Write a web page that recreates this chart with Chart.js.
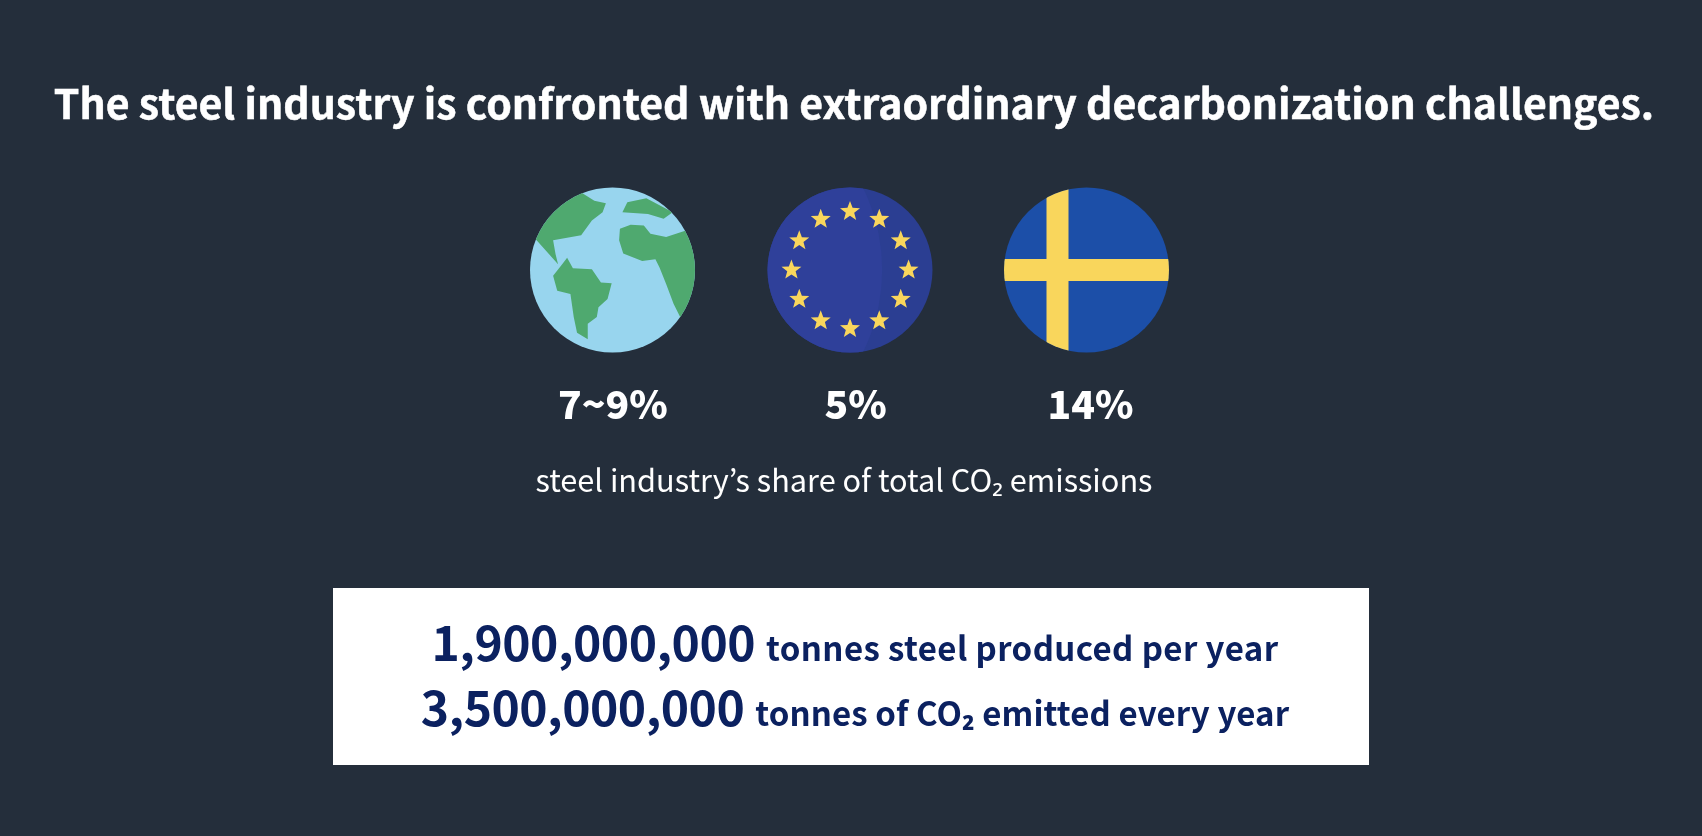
<!DOCTYPE html>
<html>
<head>
<meta charset="utf-8">
<script src="https://cdn.jsdelivr.net/npm/chart.js@4"></script>
<style>
    html, body { margin: 0; padding: 0; background: #242e3b; overflow: hidden; }
    #wrap { position: relative; width: 1702px; height: 836px; font-family: "Noto Sans CJK JP", "Noto Sans", sans-serif; }
    canvas { position: absolute; left: 0; top: 0; }
    .line { position: absolute; left: 0; width: 1702px; text-align: center; white-space: nowrap; }
    #title { top: 69px; left: 3px; color: #fff; font-size: 41px; font-weight: 700; line-height: 64px; -webkit-text-stroke: 0.5px #fff; }
    #caption { top: 457px; left: -7px; color: #fff; font-size: 30.7px; font-weight: 400; line-height: 44px; }
    #box { position: absolute; left: 333px; top: 588px; width: 1036px; height: 177px; background: #fff; }
    .stat { color: #0b2160; font-weight: 700; left: -329px; }
    .stat b { font-size: 48px; font-weight: 700; letter-spacing: -0.5px; margin-right: 11px; }
    .stat span { font-size: 33px; letter-spacing: 0.4px; }
    .stat + .stat span { letter-spacing: 0.12px; }
</style>
</head>
<body>
<div id="wrap">
    <canvas id="shareChart" width="1702" height="836"></canvas>
    <div id="title" class="line"></div>
    <div id="caption" class="line"></div>
    <div id="box"></div>
</div>
<script>
const titleText = 'The steel industry is confronted with extraordinary decarbonization challenges.';
const captionText = 'steel industry’s share of total CO₂ emissions';
const regions = ['World', 'EU', 'Sweden'];
const shareLabels = ['7~9%', '5%', '14%'];
const statNumbers = ['1,900,000,000', '3,500,000,000'];
const statUnits = ['tonnes steel produced per year', 'tonnes of CO₂ emitted every year'];

// layout, in page pixels (both scales run 1:1 with the canvas)
const iconX = [612.5, 850, 1086.5];
const iconY = 270;
const iconRadius = 82.5;
const labelX = [612.8, 855.5, 1090.4];
const labelAxisY = 372.5;
const statTop = [-3, 62];

const iconColors = ['#98d5ee', '#2b3e92', '#1c4fa8'];
const green = '#4fa96f';
const yellow = '#f9d65c';

// continents, as fractions of the globe radius
const continents = [
    [[-0.35, -0.92], [-0.22, -0.84], [-0.08, -0.81], [-0.12, -0.70], [-0.25, -0.60], [-0.38, -0.42], [-0.72, -0.36], [-0.69, -0.19], [-0.66, -0.07], [-0.92, -0.36], [-1.1, -0.6], [-0.6, -1.1]],
    [[0.12, -0.70], [0.18, -0.82], [0.41, -0.87], [0.73, -0.70], [0.62, -0.62], [0.43, -0.68]],
    [[0.09, -0.50], [0.22, -0.55], [0.38, -0.54], [0.46, -0.44], [0.65, -0.40], [0.89, -0.48], [1.1, -0.4], [1.1, 0.62], [0.82, 0.57], [0.74, 0.41], [0.65, 0.17], [0.57, -0.03], [0.52, -0.13], [0.36, -0.11], [0.13, -0.20], [0.08, -0.36]],
    [[-0.55, -0.15], [-0.48, -0.02], [-0.25, -0.01], [-0.14, 0.15], [-0.01, 0.16], [-0.06, 0.35], [-0.17, 0.45], [-0.19, 0.57], [-0.30, 0.65], [-0.30, 0.84], [-0.43, 0.76], [-0.47, 0.57], [-0.51, 0.29], [-0.67, 0.25], [-0.72, 0.07], [-0.61, -0.07]]
];

function drawStar(ctx, x, y, r) {
    ctx.beginPath();
    for (let i = 0; i < 10; i++) {
        const a = -Math.PI / 2 + i * Math.PI / 5;
        const d = i % 2 ? r * 0.42 : r;
        ctx.lineTo(x + Math.cos(a) * d, y + Math.sin(a) * d);
    }
    ctx.closePath();
    ctx.fill();
}

function drawGlobe(ctx, p, r) {
    ctx.fillStyle = green;
    continents.forEach(shape => {
        ctx.beginPath();
        shape.forEach(c => ctx.lineTo(p.x + c[0] * r, p.y + c[1] * r));
        ctx.closePath();
        ctx.fill();
    });
}

function drawEu(ctx, p, r) {
    // slightly lighter disc, leaves a darker crescent on the right
    ctx.fillStyle = '#2f409a';
    ctx.beginPath();
    ctx.arc(p.x - 1.86 * r, p.y, 2.25 * r, 0, Math.PI * 2);
    ctx.fill();
    ctx.fillStyle = yellow;
    for (let i = 0; i < 12; i++) {
        const a = i * Math.PI / 6;
        drawStar(ctx, p.x + Math.cos(a) * r * 0.71, p.y + Math.sin(a) * r * 0.71, 10.5);
    }
}

function drawSweden(ctx, p, r) {
    ctx.fillStyle = yellow;
    ctx.fillRect(p.x - r, p.y - 11, r * 2, 22);
    ctx.fillRect(p.x - 40, p.y - r, 22, r * 2);
}

const iconPainters = [drawGlobe, drawEu, drawSweden];

// paints the detail of each icon on top of the disc the chart drew
const iconDetail = {
    id: 'iconDetail',
    afterDatasetsDraw(chart) {
        const ctx = chart.ctx;
        chart.getDatasetMeta(0).data.forEach((point, i) => {
            const r = point.options.radius;
            ctx.save();
            ctx.beginPath();
            ctx.arc(point.x, point.y, r, 0, Math.PI * 2);
            ctx.clip();
            iconPainters[i](ctx, point, r);
            ctx.restore();
        });
    }
};

new Chart(document.getElementById('shareChart').getContext('2d'), {
    type: 'scatter',
    data: {
        labels: regions,
        datasets: [{
            data: regions.map((name, i) => ({x: iconX[i], y: iconY})),
            pointRadius: iconRadius,
            pointHoverRadius: iconRadius,
            pointBackgroundColor: iconColors,
            pointBorderWidth: 0,
        }],
    },
    options: {
        responsive: false,
        animation: false,
        layout: {padding: 0, autoPadding: false},
        scales: {
            x: {
                type: 'linear',
                min: 0,
                max: 1702,
                position: {y: labelAxisY},
                grid: {display: false},
                border: {display: false},
                afterBuildTicks: axis => axis.ticks = labelX.map(v => ({value: v})),
                ticks: {
                    autoSkip: false,
                    maxRotation: 0,
                    padding: 0,
                    callback: (value, index) => shareLabels[index],
                    color: '#ffffff',
                    font: {family: '"Noto Sans CJK JP"', weight: '900', size: 39},
                },
            },
            y: {
                type: 'linear',
                min: 0,
                max: 836,
                reverse: true,
                display: false,
            },
        },
        plugins: {legend: {display: false}, tooltip: {enabled: false}},
    },
    plugins: [iconDetail],
});

document.getElementById('title').textContent = titleText;
document.getElementById('caption').textContent = captionText;
const box = document.getElementById('box');
statNumbers.forEach((number, i) => {
    const row = document.createElement('div');
    row.className = 'line stat';
    row.style.top = (statTop[i] + 20) + 'px';
    const b = document.createElement('b');
    b.textContent = number;
    const s = document.createElement('span');
    s.textContent = statUnits[i];
    row.append(b, s);
    box.appendChild(row);
});
</script>
</body>
</html>
